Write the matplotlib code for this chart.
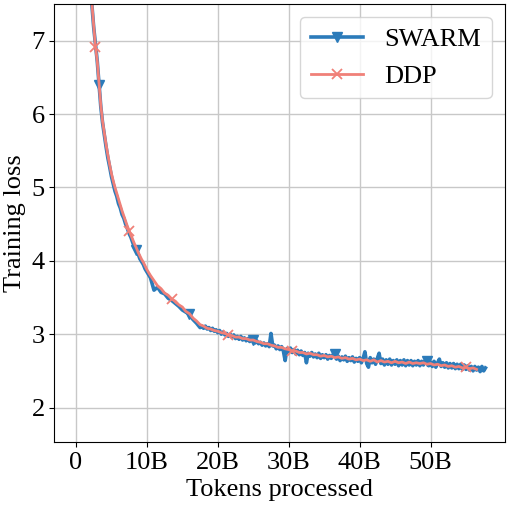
import numpy as np
import matplotlib
matplotlib.use("Agg")
import matplotlib.pyplot as plt

plt.rcParams['font.family'] = ['Liberation Serif', 'DejaVu Serif']
plt.rcParams['font.size'] = 19

# token grids (billions): finer where the loss drops fast / where SWARM is noisy
tokens_swarm = np.concatenate([np.arange(0, 10, 0.25), np.arange(10, 17, 0.5),
                               np.arange(17, 57.8, 0.25)])
tokens_ddp = np.concatenate([np.arange(0, 10, 0.25), np.arange(10, 57, 0.5)])

# SWARM training loss (noisy)
loss_swarm = [
    11.2, 11.0, 10.68, 10.3, 9.88, 9.4, 8.88, 8.4, 7.93, 7.48,
    7.18, 6.95, 6.72, 6.40, 6.10, 5.88, 5.71, 5.55, 5.40, 5.28,
    5.15, 5.05, 4.95, 4.88, 4.78, 4.72, 4.63, 4.58, 4.50, 4.44,
    4.37, 4.32, 4.25, 4.19, 4.15, 4.10, 4.03, 3.99, 3.95, 3.89,
    3.85, 3.77, 3.60, 3.64, 3.57, 3.55, 3.49, 3.46, 3.42, 3.38,
    3.33, 3.30, 3.27, 3.20,
    3.15, 3.12, 3.09, 3.11, 3.08, 3.11, 3.07, 3.09,
    3.05, 3.08, 3.04, 3.06, 3.02, 3.05, 3.00, 3.03,
    2.99, 3.01, 2.97, 3.00, 2.96, 2.99, 2.94, 2.97,
    2.93, 2.97, 2.92, 2.95, 2.91, 2.94, 2.90, 2.93,
    2.92, 2.88, 2.91, 2.87, 2.89, 2.85, 2.88, 2.84,
    2.87, 2.83, 3.01, 2.84, 2.85, 2.80, 2.84, 2.79,
    2.83, 2.77, 2.64, 2.80, 2.76, 2.81, 2.75, 2.79,
    2.73, 2.78, 2.72, 2.77, 2.71, 2.75, 2.61, 2.74,
    2.70, 2.75, 2.69, 2.73, 2.68, 2.74, 2.67, 2.72,
    2.68, 2.72, 2.66, 2.71, 2.67, 2.72, 2.73, 2.66,
    2.70, 2.64, 2.69, 2.65, 2.70, 2.63, 2.68, 2.64,
    2.69, 2.62, 2.67, 2.63, 2.68, 2.61, 2.67, 2.76,
    2.60, 2.55, 2.68, 2.61, 2.66, 2.59, 2.67, 2.74,
    2.60, 2.66, 2.58, 2.65, 2.59, 2.66, 2.58, 2.64,
    2.59, 2.65, 2.57, 2.64, 2.58, 2.65, 2.57, 2.64,
    2.58, 2.64, 2.57, 2.63, 2.58, 2.64, 2.57, 2.63,
    2.58, 2.64, 2.64, 2.57, 2.62, 2.56, 2.63, 2.55,
    2.61, 2.66, 2.56, 2.61, 2.55, 2.61, 2.54, 2.60,
    2.54, 2.60, 2.53, 2.59, 2.53, 2.59, 2.52, 2.58,
    2.52, 2.57, 2.51, 2.56, 2.50, 2.56, 2.51, 2.55,
    2.49, 2.56, 2.50, 2.54,
]

# DDP training loss
loss_ddp = [
    11.2, 11.0, 10.7, 10.3, 9.9, 9.4, 8.9, 8.4, 7.95, 7.5,
    7.2, 6.92, 6.72, 6.42, 6.12, 5.9, 5.74, 5.58, 5.44, 5.31,
    5.19, 5.09, 5.0, 4.92, 4.84, 4.76, 4.68, 4.61, 4.54, 4.47,
    4.41, 4.35, 4.29, 4.23, 4.18, 4.12, 4.07, 4.02, 3.98, 3.93,
    3.88, 3.80, 3.73, 3.66, 3.62, 3.56, 3.53, 3.48, 3.45, 3.40,
    3.37, 3.31, 3.28, 3.22, 3.18, 3.13, 3.11, 3.08, 3.07, 3.05,
    3.04, 3.02, 3.01, 2.99, 2.98, 2.96, 2.96, 2.94, 2.94, 2.92,
    2.92, 2.90, 2.89, 2.87, 2.87, 2.85, 2.84, 2.82, 2.82, 2.80,
    2.79, 2.77, 2.77, 2.75, 2.75, 2.73, 2.74, 2.72, 2.72, 2.70,
    2.71, 2.69, 2.70, 2.68, 2.69, 2.67, 2.68, 2.66, 2.67, 2.65,
    2.66, 2.64, 2.65, 2.63, 2.65, 2.62, 2.64, 2.62, 2.63, 2.61,
    2.63, 2.61, 2.62, 2.60, 2.62, 2.60, 2.61, 2.60, 2.61, 2.59,
    2.60, 2.58, 2.59, 2.57, 2.58, 2.56, 2.57, 2.55, 2.56, 2.54,
    2.55, 2.53, 2.54, 2.52,
]

swarm_marks = [13, 34, 52, 86, 132, 184]
ddp_marks = [11, 30, 47, 63, 81, 130]

xtick_vals = [0, 10, 20, 30, 40, 50]
xtick_labels = ['0', '10B', '20B', '30B', '40B', '50B']

fig = plt.figure(figsize=(5.08, 5.09), dpi=100)
ax = fig.add_axes([0.107, 0.1316, 0.887, 0.8605])

ax.plot(tokens_swarm[:len(loss_swarm)], loss_swarm, color='#2b7bba', lw=2.6,
        marker='v', markersize=7, markevery=swarm_marks, label='SWARM')
ax.plot(tokens_ddp[:len(loss_ddp)], loss_ddp, color='#f08078', lw=2.0,
        marker='x', markersize=7, markeredgewidth=1.3, markevery=ddp_marks,
        label='DDP')

ax.set_xlim(-3.05, 60.5)
ax.set_ylim(1.53, 7.5)
ax.set_xticks(xtick_vals)
ax.set_xticklabels(xtick_labels)
ax.set_yticks([2, 3, 4, 5, 6, 7])
ax.grid(True, color='#c8c8c8', lw=1)
ax.set_axisbelow(True)
ax.set_xlabel('Tokens processed')
ax.set_ylabel('Training loss')
ax.legend(loc='upper right', fontsize=19)

fig.savefig('out.png', dpi=100)
